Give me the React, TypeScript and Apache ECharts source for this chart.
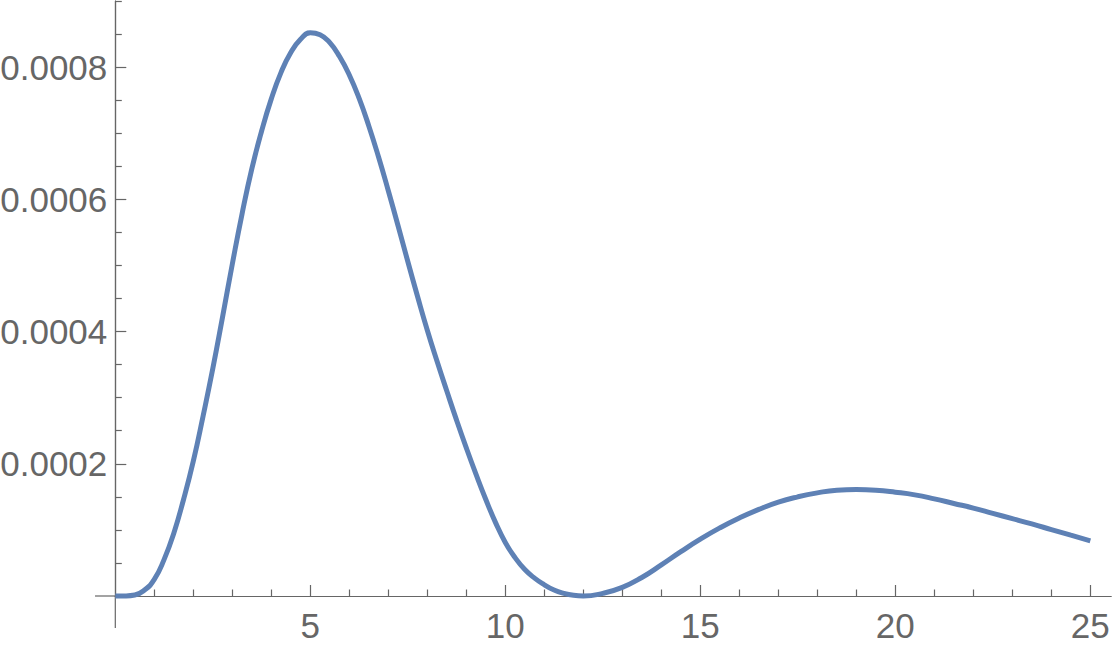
import React, { useEffect, useRef } from "react";
import * as echarts from "echarts";

// Curve samples (x, y)
const xValues = [
  0, 0.25, 0.5, 0.75, 1.0, 1.25, 1.5, 1.75, 2.0, 2.25, 2.5, 2.75, 3.0, 3.25, 3.5, 3.75,
  4.0, 4.25, 4.5, 4.75, 5.0, 5.25, 5.5, 5.75, 6.0, 6.25, 6.5, 6.75, 7.0, 7.25, 7.5,
  7.75, 8.0, 8.25, 8.5, 8.75, 9.0, 9.25, 9.5, 9.75, 10.0, 10.25, 10.5, 10.75, 11.0,
  11.25, 11.5, 11.75, 12.0, 12.5, 13.0, 13.5, 14.0, 14.5, 15.0, 15.5, 16.0, 16.5,
  17.0, 17.5, 18.0, 18.5, 19.0, 19.5, 20.0, 20.5, 21.0, 21.5, 22.0, 22.5, 23.0, 23.5,
  24.0, 24.5, 25.0,
];
const yValues = [
  0, 0.0000001, 0.0000015, 0.000009, 0.000025, 0.000055, 0.000095, 0.000146,
  0.000204, 0.000272, 0.000344, 0.000422, 0.000502, 0.000578, 0.000646, 0.000703,
  0.000752, 0.000792, 0.000822, 0.000842, 0.000852, 0.000849, 0.000837, 0.000816,
  0.000788, 0.000753, 0.000711, 0.000664, 0.000613, 0.00056, 0.000506, 0.000453,
  0.000402, 0.000355, 0.00031, 0.000266, 0.000224, 0.000184, 0.000146, 0.000111,
  0.000081, 0.000058, 0.00004, 0.000027, 0.000017, 0.000009, 0.000004, 0.000001, 0,
  0.000004, 0.000013, 0.000028, 0.000047, 0.000067, 0.000086, 0.000103, 0.000118,
  0.000131, 0.000142, 0.00015, 0.000156, 0.00016, 0.000161, 0.00016, 0.000157,
  0.000153, 0.000147, 0.00014, 0.000133, 0.000125, 0.000117, 0.000109, 0.0001005,
  0.000092, 0.0000835,
];

const xMajorTicks = [5, 10, 15, 20, 25];
const xMinorTicks = [1, 2, 3, 4, 6, 7, 8, 9, 11, 12, 13, 14, 16, 17, 18, 19, 21, 22, 23, 24];
const yMajorTicks = [0.0002, 0.0004, 0.0006, 0.0008];
const yMinorTicks = [
  0.00005, 0.0001, 0.00015, 0.00025, 0.0003, 0.00035, 0.00045, 0.0005, 0.00055,
  0.00065, 0.0007, 0.00075, 0.00085, 0.0009,
];

const X_MIN = 0;
const X_MAX = 25.53;
const Y_MIN = 0;
const Y_MAX = 0.0009;
// how far the axis lines run past the origin (Mathematica-style padding)
const X_AXIS_EXTEND = -0.52;
const Y_AXIS_EXTEND = -0.0000484;

const AXIS_COLOR = "#666666";
const FONT = "'Liberation Sans', Arial, sans-serif";

export default function App() {
  const ref = useRef<HTMLDivElement>(null);

  useEffect(() => {
    if (!ref.current) return;
    const chart = echarts.init(ref.current, undefined, { renderer: "svg" });
    const axisLine = { onZero: false, lineStyle: { color: AXIS_COLOR, width: 1.2 } };
    const tickStyle = { color: AXIS_COLOR, width: 1.2 };
    chart.setOption({
      animation: false,
      backgroundColor: "#ffffff",
      grid: {
        left: 115.3,
        top: 1,
        width: 995.7,
        height: 595,
        containLabel: false,
        outerBoundsMode: "none",
      },
      xAxis: [
        {
          type: "value",
          position: "bottom",
          min: X_MIN,
          max: X_MAX,
          axisLine: { ...axisLine },
          axisTick: { show: true, inside: true, length: 11, customValues: xMajorTicks, lineStyle: tickStyle },
          axisLabel: {
            customValues: xMajorTicks,
            margin: 12,
            fontSize: 35,
            color: AXIS_COLOR,
            fontFamily: FONT,
            formatter: (v: number) => String(v),
          },
          splitLine: { show: false },
        },
        {
          type: "value",
          position: "bottom",
          min: X_MIN,
          max: X_MAX,
          axisLine: { ...axisLine },
          axisTick: { show: true, inside: true, length: 6.5, customValues: xMinorTicks, lineStyle: tickStyle },
          axisLabel: { show: false },
          splitLine: { show: false },
        },
      ],
      yAxis: [
        {
          type: "value",
          position: "left",
          min: Y_MIN,
          max: Y_MAX,
          axisLine: { ...axisLine },
          axisTick: { show: true, inside: true, length: 11, customValues: yMajorTicks, lineStyle: tickStyle },
          axisLabel: {
            customValues: yMajorTicks,
            margin: 8,
            fontSize: 35,
            color: AXIS_COLOR,
            fontFamily: FONT,
            formatter: (v: number) => v.toFixed(4),
          },
          splitLine: { show: false },
        },
        {
          type: "value",
          position: "left",
          min: Y_MIN,
          max: Y_MAX,
          axisLine: { ...axisLine },
          axisTick: { show: true, inside: true, length: 6.5, customValues: yMinorTicks, lineStyle: tickStyle },
          axisLabel: { show: false },
          splitLine: { show: false },
        },
      ],
      series: [
        {
          type: "line",
          xAxisIndex: 0,
          yAxisIndex: 0,
          data: xValues.map((x, i) => [x, yValues[i]]),
          smooth: 0.5,
          symbol: "none",
          showSymbol: false,
          lineStyle: { color: "#5E81B5", width: 5, cap: "butt", join: "round" },
          clip: false,
          z: 5,
        },
      ],
    });

    // Axis-line overhang past the origin, placed through the chart's own scales
    const origin = chart.convertToPixel({ gridIndex: 0 }, [0, 0]) as number[];
    const xLeft = chart.convertToPixel({ gridIndex: 0 }, [X_AXIS_EXTEND, 0]) as number[];
    const yBottom = chart.convertToPixel({ gridIndex: 0 }, [0, Y_AXIS_EXTEND]) as number[];
    chart.setOption({
      graphic: [
        {
          type: "line",
          shape: { x1: xLeft[0], y1: origin[1], x2: origin[0], y2: origin[1] },
          style: { stroke: AXIS_COLOR, lineWidth: 1.2 },
          z: 1,
        },
        {
          type: "line",
          shape: { x1: origin[0], y1: origin[1], x2: origin[0], y2: yBottom[1] },
          style: { stroke: AXIS_COLOR, lineWidth: 1.2 },
          z: 1,
        },
      ],
    });
    return () => chart.dispose();
  }, []);

  return (
    <div
      ref={ref}
      style={{ position: "fixed", left: 0, top: 0, width: 1112, height: 650, background: "#fff" }}
    />
  );
}
